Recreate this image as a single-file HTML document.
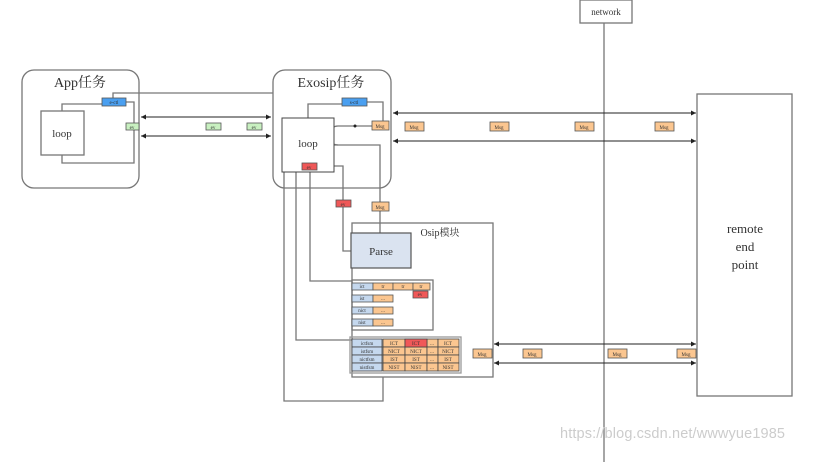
<!DOCTYPE html>
<html><head><meta charset="utf-8"><style>
html,body{margin:0;padding:0;background:#fff}
svg{display:block}
text{font-family:"Liberation Serif","Noto Serif CJK SC",serif;fill:#333}
.s{font-size:5px;text-anchor:middle;fill:#555}
</style></head><body>
<svg width="820" height="462" viewBox="0 0 820 462" xmlns="http://www.w3.org/2000/svg">
<defs>
<marker id="a" markerWidth="6" markerHeight="6" refX="5" refY="3" orient="auto"><path d="M0,0.5 L5,3 L0,5.5z" fill="#222"/></marker>
<marker id="b" markerWidth="6" markerHeight="6" refX="1" refY="3" orient="auto"><path d="M6,0.5 L1,3 L6,5.5z" fill="#222"/></marker>
</defs>
<g fill="none" stroke="#777" stroke-width="1.3">
<rect x="22" y="70" width="117" height="118" rx="12"/>
<rect x="41" y="111" width="43" height="44"/>
<polyline points="62,111 62,104 102,104"/>
<polyline points="126,102 134,102 134,163 62,163 62,155"/>
<polyline points="113,98 113,93 273,93"/>
<rect x="273" y="70" width="118" height="118" rx="12"/>
<polyline points="308,118 308,104 342,104"/>
<polyline points="367,102 383,102 383,121"/>
<line x1="338" y1="126" x2="372" y2="126"/>
<path d="M338,126 A9,9 0 0 0 338,145"/>
<polyline points="334,145 380,145 380,202"/>
<line x1="380" y1="211" x2="380" y2="233"/>
<polyline points="317,166 343,166 343,200"/>
<polyline points="343,207 343,251 351,251"/>
<polyline points="284,172 284,401 383,401 383,377"/>
<polyline points="296,172 296,340 352,340"/>
<polyline points="310,172 310,281 352,281"/>
<rect x="352" y="223" width="141" height="154"/>
<rect x="352" y="280" width="81" height="50"/>
<rect x="350" y="337" width="111" height="36" stroke="#999"/>
<rect x="697" y="94" width="95" height="302"/>
<rect x="580" y="0" width="52" height="23"/>
<line x1="604" y1="23" x2="604" y2="462"/>
</g>
<rect x="282" y="118" width="52" height="54" fill="#fff" stroke="#444" stroke-width="1"/>
<circle cx="355" cy="126" r="1.5" fill="#222"/>
<rect x="351" y="233" width="60" height="35" fill="#dae3f0" stroke="#555" stroke-width="1.2"/>
<g stroke="#222" stroke-width="1" fill="none">
<line x1="141" y1="117" x2="271" y2="117" marker-start="url(#b)" marker-end="url(#a)"/>
<line x1="141" y1="136" x2="271" y2="136" marker-start="url(#b)" marker-end="url(#a)"/>
<line x1="393" y1="113" x2="696" y2="113" marker-start="url(#b)" marker-end="url(#a)"/>
<line x1="393" y1="141" x2="696" y2="141" marker-start="url(#b)" marker-end="url(#a)"/>
<line x1="494" y1="344" x2="696" y2="344" marker-start="url(#b)" marker-end="url(#a)"/>
<line x1="494" y1="363" x2="696" y2="363" marker-start="url(#b)" marker-end="url(#a)"/>
</g>
<g stroke="#555" stroke-width="0.8">
<rect x="102" y="98" width="24" height="8" fill="#4a9ff0"/>
<rect x="342" y="98" width="25" height="8" fill="#4a9ff0"/>
<rect x="126" y="123" width="13" height="7" fill="#c8f0c0"/>
<rect x="206" y="123" width="15" height="7" fill="#c8f0c0"/>
<rect x="247" y="123" width="15" height="7" fill="#c8f0c0"/>
<rect x="302" y="163" width="15" height="7" fill="#f05858"/>
<rect x="336" y="200" width="15" height="7" fill="#f05858"/>
<rect x="372" y="121" width="17" height="9" fill="#fbc690"/>
<rect x="372" y="202" width="17" height="9" fill="#fbc690"/>
<rect x="405" y="122" width="19" height="9" fill="#fbc690"/>
<rect x="490" y="122" width="19" height="9" fill="#fbc690"/>
<rect x="575" y="122" width="19" height="9" fill="#fbc690"/>
<rect x="655" y="122" width="19" height="9" fill="#fbc690"/>
<rect x="473" y="349" width="19" height="9" fill="#fbc690"/>
<rect x="523" y="349" width="19" height="9" fill="#fbc690"/>
<rect x="608" y="349" width="19" height="9" fill="#fbc690"/>
<rect x="677" y="349" width="19" height="9" fill="#fbc690"/>
<rect x="352" y="283" width="21" height="7" fill="#c5d8ee"/>
<rect x="373" y="283" width="20" height="7" fill="#fbc690"/>
<rect x="393" y="283" width="20" height="7" fill="#fbc690"/>
<rect x="413" y="283" width="17" height="7" fill="#fbc690"/>
<rect x="413" y="291" width="15" height="7" fill="#f05858"/>
<rect x="352" y="295" width="21" height="7" fill="#c5d8ee"/>
<rect x="373" y="295" width="20" height="7" fill="#fbc690"/>
<rect x="352" y="307" width="21" height="7" fill="#c5d8ee"/>
<rect x="373" y="307" width="20" height="7" fill="#fbc690"/>
<rect x="352" y="319" width="21" height="7" fill="#c5d8ee"/>
<rect x="373" y="319" width="20" height="7" fill="#fbc690"/>
</g>
<g stroke="#444" stroke-width="0.8">
<g id="r"><rect x="352" y="339" width="30" height="8" fill="#c5d8ee"/><rect x="383" y="339" width="22" height="8" fill="#fbc690"/><rect x="405" y="339" width="22" height="8" fill="#fbc690"/><rect x="427" y="339" width="11" height="8" fill="#fbc690"/><rect x="438" y="339" width="21" height="8" fill="#fbc690"/></g>
<use href="#r" y="8"/><use href="#r" y="16"/><use href="#r" y="24"/>
<rect x="405" y="339" width="22" height="8" fill="#f05858"/>
</g>
<g class="s">
<text x="114" y="104">e-ctl</text><text x="354" y="104">s-ctl</text>
<text x="132" y="129">ev</text><text x="213" y="129">ev</text><text x="254" y="129">ev</text>
<text x="309" y="169">ev</text><text x="343" y="206">ev</text>
<text x="380" y="128">Msg</text><text x="380" y="209">Msg</text>
<text x="414" y="129">Msg</text><text x="499" y="129">Msg</text><text x="584" y="129">Msg</text><text x="664" y="129">Msg</text>
<text x="482" y="356">Msg</text><text x="532" y="356">Msg</text><text x="617" y="356">Msg</text><text x="686" y="356">Msg</text>
<text x="362" y="288">ict</text><text x="383" y="288">tr</text><text x="403" y="288">tr</text><text x="421" y="288">tr</text><text x="420" y="296">ev</text>
<text x="362" y="300">ist</text><text x="383" y="300">...</text>
<text x="362" y="312">nict</text><text x="383" y="312">...</text>
<text x="362" y="324">nist</text><text x="383" y="324">...</text>
<text x="367" y="345">ictfsm</text><text x="394" y="345">ICT</text><text x="416" y="345">ICT</text><text x="432" y="345">...</text><text x="448" y="345">ICT</text>
<text x="367" y="353">istfsm</text><text x="394" y="353">NICT</text><text x="416" y="353">NICT</text><text x="432" y="353">...</text><text x="448" y="353">NICT</text>
<text x="367" y="361">nictfsm</text><text x="394" y="361">IST</text><text x="416" y="361">IST</text><text x="432" y="361">...</text><text x="448" y="361">IST</text>
<text x="367" y="369">nistfsm</text><text x="394" y="369">NIST</text><text x="416" y="369">NIST</text><text x="432" y="369">...</text><text x="448" y="369">NIST</text>
</g>
<text x="80" y="87" font-size="14" text-anchor="middle">App任务</text>
<text x="331" y="87" font-size="14" text-anchor="middle">Exosip任务</text>
<text x="62" y="137" font-size="11" text-anchor="middle">loop</text>
<text x="308" y="147" font-size="11" text-anchor="middle">loop</text>
<text x="381" y="255" font-size="11" text-anchor="middle">Parse</text>
<text x="440" y="236" font-size="10" text-anchor="middle">Osip模块</text>
<text x="606" y="15" font-size="9" text-anchor="middle">network</text>
<g font-size="13" text-anchor="middle"><text x="745" y="233">remote</text><text x="745" y="251">end</text><text x="745" y="269">point</text></g>
<text x="560" y="438" font-size="14.5" textLength="225" style="fill:#ccc;font-family:'Liberation Sans',sans-serif">https://blog.csdn.net/wwwyue1985</text>
</svg>
</body></html>
